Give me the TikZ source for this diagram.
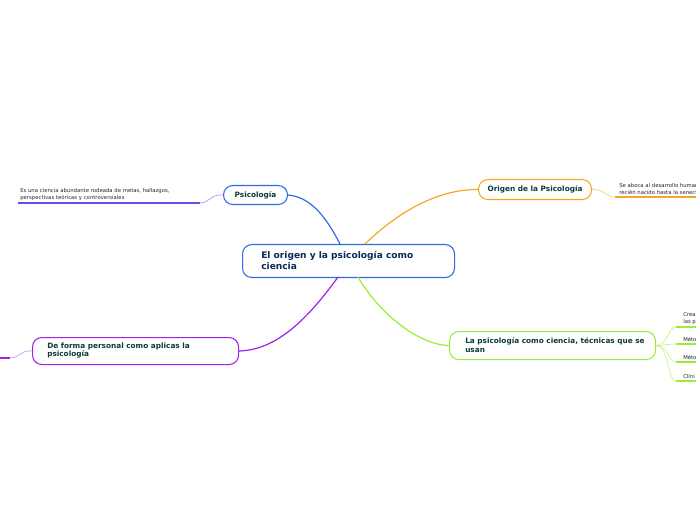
\documentclass[tikz,border=0pt]{standalone}
\usepackage{fontspec}
\setmainfont{DejaVu Sans}
\definecolor{cblue}{HTML}{2E6BE6}
\definecolor{corange}{HTML}{F5A623}
\definecolor{cgreen}{HTML}{99EE33}
\definecolor{cpurple}{HTML}{A020F0}
\definecolor{cviolet}{HTML}{6A4CE8}
\definecolor{ctext}{HTML}{0B3A3A}
\definecolor{cnavy}{HTML}{0A2A55}
\tikzset{
 topic/.style={draw=#1, line width=0.8pt, rounded corners=7pt, fill=white, anchor=north west, inner sep=0pt},
 leaf/.style={font=\fontsize{4}{5.2}\selectfont, text=black!85, align=left, anchor=north west, inner sep=0pt},
 conn/.style={line width=0.9pt},
}
\begin{document}
\begin{tikzpicture}[x=0.75pt,y=-0.75pt]
\useasboundingbox (0,0) rectangle (696,520);
\clip (0,0) rectangle (696,520);
% central
\node[topic=cblue, minimum width=212*0.75pt, minimum height=33*0.75pt] (c) at (242,244) {};
\node[anchor=west, font=\fontsize{6.8}{8}\selectfont\bfseries, text=cnavy, align=left, inner sep=0pt] at (261,260.5) {El origen y la psicología como\\ciencia};
% topics
\node[topic=cblue, minimum width=64*0.75pt, minimum height=19*0.75pt, font=\fontsize{5.5}{6.5}\selectfont\bfseries, text=ctext] (p) at (223,185) {Psicología};
\node[topic=corange, minimum width=113*0.75pt, minimum height=20*0.75pt, font=\fontsize{5.5}{6.5}\selectfont\bfseries, text=ctext] (o) at (478,179) {Origen de la Psicología};
\node[topic=cgreen, minimum width=206*0.75pt, minimum height=28*0.75pt] (g) at (449,331) {};
\node[anchor=west, font=\fontsize{5.5}{6.5}\selectfont\bfseries, text=ctext, align=left, inner sep=0pt] at (465,345) {La psicología como ciencia, técnicas que se\\usan};
\node[topic=cpurple, minimum width=206*0.75pt, minimum height=27*0.75pt] (d) at (32,337) {};
\node[anchor=west, font=\fontsize{5.5}{6.5}\selectfont\bfseries, text=ctext, align=left, inner sep=0pt] at (47,350.5) {De forma personal como aplicas la\\psicología};
% connectors
\coordinate (c1) at (340,244);
\coordinate (c2) at (365,244);
\coordinate (c3) at (358,277);
\coordinate (c4) at (338,277);
\draw[conn, cblue] (c1) .. controls (325,215) and (310,197) .. (p.east);
\draw[conn, corange] (c2) .. controls (400,210) and (440,189) .. (o.west);
\draw[conn, cgreen] (c3) .. controls (380,315) and (420,345) .. (g.west);
\draw[conn, cpurple] (c4) .. controls (300,330) and (270,350) .. (d.east);
% leaves
\node[leaf] (pl) at (20,188) {Es una ciencia abundante rodeada de metas, hallazgos,\\perspectivas teóricas y controversiales};
\coordinate (pl1) at (200,203); \coordinate (pl0) at (18,203);
\draw[line width=1.2pt, cviolet] (pl0) -- (pl1);
\draw[line width=0.5pt, cviolet!60] (pl1) .. controls (210,203) and (210,194) .. (p.west);
\node[leaf] (ol) at (619,183) {Se aboca al desarrollo humano desde el\\recién nacido hasta la senectud};
\coordinate (ol0) at (615,197); \coordinate (ol1) at (696,197);
\draw[line width=1.2pt, corange] (ol0) -- (ol1);
\draw[line width=0.5pt, corange!60] (o.east) .. controls (605,189) and (605,197) .. (ol0);
% green leaves
\node[leaf] (g1) at (683,312) {Crea\\las p};
\node[leaf] (g2) at (683,337) {Méto};
\node[leaf] (g3) at (683,355) {Méto};
\node[leaf] (g4) at (683,374) {Clíni};
\foreach \y in {327,344,362,381}{
  \coordinate (gl\y) at (676,\y);
  \draw[line width=1.2pt, cgreen] (gl\y) -- (696,\y);
  \draw[line width=0.5pt, cgreen!60] (g.east) .. controls (668,345) and (668,\y) .. (gl\y);
}
% purple leaf
\coordinate (dl) at (10,358);
\draw[line width=1.2pt, cpurple] (0,358) -- (dl);
\draw[line width=0.5pt, cpurple!50] (dl) .. controls (20,358) and (20,350) .. (d.west);
\end{tikzpicture}
\end{document}
